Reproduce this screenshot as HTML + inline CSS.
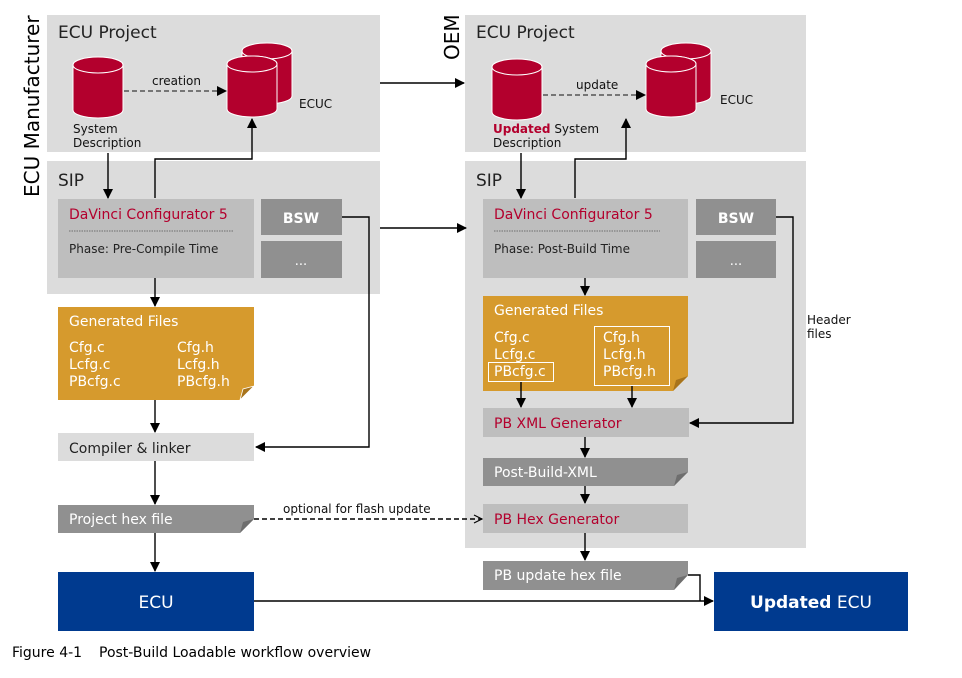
<!DOCTYPE html>
<html><head><meta charset="utf-8"><style>
html,body{margin:0;padding:0;background:#fff}
svg{display:block}
text{font-family:"DejaVu Sans","Liberation Sans",sans-serif}
</style></head><body>
<svg width="962" height="678" viewBox="0 0 962 678" xmlns="http://www.w3.org/2000/svg">
<defs>
<marker id="a" markerWidth="10" markerHeight="10" refX="9" refY="5" orient="auto" markerUnits="userSpaceOnUse"><path d="M0,0 L10,5 L0,10 z" fill="#000"/></marker>
<marker id="o" markerWidth="10" markerHeight="10" refX="9" refY="5" orient="auto" markerUnits="userSpaceOnUse"><path d="M1,1 L9,5 L1,9" fill="none" stroke="#000" stroke-width="1.2"/></marker>
</defs>
<text transform="translate(39,197) rotate(-90)" font-size="20" fill="#000">ECU Manufacturer</text>
<text transform="translate(459,60) rotate(-90)" font-size="20" fill="#000">OEM</text>

<rect x="47" y="15" width="333" height="137" fill="#dcdcdc"/>
<rect x="47" y="161" width="333" height="133" fill="#dcdcdc"/>
<rect x="465" y="15" width="341" height="137" fill="#dcdcdc"/>
<rect x="465" y="161" width="341" height="387" fill="#dcdcdc"/>
<text x="58" y="38" font-size="17" fill="#222">ECU Project</text>
<text x="58" y="186" font-size="17" fill="#222">SIP</text>
<text x="476" y="38" font-size="17" fill="#222">ECU Project</text>
<text x="476" y="186" font-size="17" fill="#222">SIP</text>

<g fill="#b3002d" stroke="#fff" stroke-width="1">
<path d="M73,65 a25,8 0 0 1 50,0 v45 a25,8 0 0 1 -50,0 z"/><ellipse cx="98" cy="65" rx="25" ry="8"/>
<path d="M242,51 a25,8 0 0 1 50,0 v45 a25,8 0 0 1 -50,0 z"/><ellipse cx="267" cy="51" rx="25" ry="8"/>
<path d="M227,64 a25,8 0 0 1 50,0 v45 a25,8 0 0 1 -50,0 z"/><ellipse cx="252" cy="64" rx="25" ry="8"/>
<path d="M492,67 a25,8 0 0 1 50,0 v45 a25,8 0 0 1 -50,0 z"/><ellipse cx="517" cy="67" rx="25" ry="8"/>
<path d="M661,51 a25,8 0 0 1 50,0 v45 a25,8 0 0 1 -50,0 z"/><ellipse cx="686" cy="51" rx="25" ry="8"/>
<path d="M646,64 a25,8 0 0 1 50,0 v45 a25,8 0 0 1 -50,0 z"/><ellipse cx="671" cy="64" rx="25" ry="8"/>
</g>
<text x="73" y="133" font-size="12" fill="#111">System</text>
<text x="73" y="147" font-size="12" fill="#111">Description</text>
<text x="299" y="108" font-size="12" fill="#111">ECUC</text>
<text x="152" y="85" font-size="12" fill="#111">creation</text>
<line x1="124" y1="91" x2="226" y2="91" stroke="#555" stroke-width="1.5" stroke-dasharray="5,3" marker-end="url(#a)"/>
<text x="493" y="133" font-size="12" fill="#111"><tspan fill="#b3002d" font-weight="bold">Updated</tspan> System</text>
<text x="493" y="147" font-size="12" fill="#111">Description</text>
<text x="720" y="104" font-size="12" fill="#111">ECUC</text>
<text x="576" y="89" font-size="12" fill="#111">update</text>
<line x1="543" y1="95" x2="645" y2="95" stroke="#555" stroke-width="1.5" stroke-dasharray="5,3" marker-end="url(#a)"/>

<rect x="58" y="199" width="196" height="79" fill="#bebebe"/>
<text x="69" y="219" font-size="14" fill="#b3002d">DaVinci Configurator 5</text>
<line x1="69" y1="231" x2="233" y2="231" stroke="#555" stroke-width="0.7" stroke-dasharray="1.5,1"/>
<text x="69" y="253" font-size="12" fill="#222">Phase: Pre-Compile Time</text>
<rect x="261" y="199" width="81" height="36" fill="#909090"/>
<text x="301" y="223" font-size="14" fill="#fff" text-anchor="middle" font-weight="bold">BSW</text>
<rect x="261" y="241" width="81" height="37" fill="#909090"/>
<text x="301" y="265" font-size="13" fill="#fff" text-anchor="middle">...</text>

<rect x="483" y="199" width="205" height="79" fill="#bebebe"/>
<text x="494" y="219" font-size="14" fill="#b3002d">DaVinci Configurator 5</text>
<line x1="494" y1="231" x2="660" y2="231" stroke="#555" stroke-width="0.7" stroke-dasharray="1.5,1"/>
<text x="494" y="253" font-size="12" fill="#222">Phase: Post-Build Time</text>
<rect x="696" y="199" width="80" height="36" fill="#909090"/>
<text x="736" y="223" font-size="14" fill="#fff" text-anchor="middle" font-weight="bold">BSW</text>
<rect x="696" y="241" width="80" height="37" fill="#909090"/>
<text x="736" y="265" font-size="13" fill="#fff" text-anchor="middle">...</text>

<path d="M58,307 H254 V386 L240,400 H58 z" fill="#d69a2d"/>
<path d="M240,400 L243,389 L254,386 z" fill="#a8741c" stroke="#fff" stroke-width="0.8"/>
<text x="69" y="326" font-size="14" fill="#fff">Generated Files</text>
<g font-size="14" fill="#fff"><text x="69" y="352">Cfg.c</text><text x="69" y="369">Lcfg.c</text><text x="69" y="386">PBcfg.c</text>
<text x="177" y="352">Cfg.h</text><text x="177" y="369">Lcfg.h</text><text x="177" y="386">PBcfg.h</text></g>

<path d="M483,296 H688 V376 L673,391 H483 z" fill="#d69a2d"/>
<path d="M673,391 L676,380 L688,376 z" fill="#a8741c"/>
<text x="494" y="315" font-size="14" fill="#fff">Generated Files</text>
<g font-size="14" fill="#fff"><text x="494" y="342">Cfg.c</text><text x="494" y="359">Lcfg.c</text><text x="494" y="376">PBcfg.c</text>
<text x="603" y="342">Cfg.h</text><text x="603" y="359">Lcfg.h</text><text x="603" y="376">PBcfg.h</text></g>
<rect x="488.5" y="362.5" width="65" height="19" fill="none" stroke="#fff"/>
<rect x="594.5" y="326.5" width="75" height="59" fill="none" stroke="#fff"/>

<rect x="58" y="433" width="196" height="28" fill="#dcdcdc"/>
<text x="69" y="453" font-size="14" fill="#222">Compiler &amp; linker</text>
<path d="M58,505 H254 V519 L240,533 H58 z" fill="#909090"/>
<path d="M240,533 L243,522 L254,519 z" fill="#6e6e6e"/>
<text x="69" y="524" font-size="14" fill="#fff">Project hex file</text>
<rect x="58" y="572" width="196" height="59" fill="#003a8f"/>
<text x="156" y="608" font-size="17" fill="#fff" text-anchor="middle">ECU</text>

<rect x="483" y="408" width="206" height="29" fill="#bebebe"/>
<text x="494" y="428" font-size="14" fill="#b3002d">PB XML Generator</text>
<path d="M483,458 H688 V472 L674,486 H483 z" fill="#909090"/>
<path d="M674,486 L677,475 L688,472 z" fill="#6e6e6e"/>
<text x="494" y="477" font-size="14" fill="#fff">Post-Build-XML</text>
<rect x="483" y="504" width="205" height="29" fill="#bebebe"/>
<text x="494" y="524" font-size="14" fill="#b3002d">PB Hex Generator</text>
<path d="M483,561 H688 V575 L674,590 H483 z" fill="#909090"/>
<path d="M674,590 L677,578 L688,575 z" fill="#6e6e6e"/>
<text x="494" y="580" font-size="14" fill="#fff">PB update hex file</text>
<rect x="714" y="572" width="194" height="59" fill="#003a8f"/>
<text x="811" y="608" font-size="17" fill="#fff" text-anchor="middle"><tspan font-weight="bold">Updated</tspan> ECU</text>

<g stroke="#000" stroke-width="1.4" fill="none">
<line x1="380" y1="83" x2="464" y2="83" marker-end="url(#a)"/>
<line x1="380" y1="228" x2="466" y2="228" marker-end="url(#a)"/>
<line x1="108" y1="153" x2="108" y2="198" marker-end="url(#a)"/>
<polyline points="155,198 155,159 252,159 252,119" marker-end="url(#a)"/>
<line x1="155" y1="278" x2="155" y2="306" marker-end="url(#a)"/>
<line x1="155" y1="400" x2="155" y2="432" marker-end="url(#a)"/>
<line x1="155" y1="461" x2="155" y2="504" marker-end="url(#a)"/>
<line x1="155" y1="533" x2="155" y2="571" marker-end="url(#a)"/>
<polyline points="342,217 369,217 369,447 256,447" marker-end="url(#a)"/>
<line x1="521" y1="153" x2="521" y2="198" marker-end="url(#a)"/>
<polyline points="575,198 575,159 626,159 626,119" marker-end="url(#a)"/>
<line x1="585" y1="278" x2="585" y2="295" marker-end="url(#a)"/>
<line x1="521" y1="382" x2="521" y2="407" marker-end="url(#a)"/>
<line x1="632" y1="386" x2="632" y2="407" marker-end="url(#a)"/>
<polyline points="776,217 793,217 793,423 690,423" marker-end="url(#a)"/>
<line x1="585" y1="437" x2="585" y2="457" marker-end="url(#a)"/>
<line x1="585" y1="486" x2="585" y2="503" marker-end="url(#a)"/>
<line x1="585" y1="533" x2="585" y2="560" marker-end="url(#a)"/>
<line x1="254" y1="601" x2="713" y2="601" marker-end="url(#a)"/>
<polyline points="688,575 700,575 700,601"/>
<line x1="254" y1="519" x2="482" y2="519" stroke-dasharray="5,3" marker-end="url(#o)"/>
</g>
<text x="283" y="513" font-size="12" fill="#111">optional for flash update</text>
<text x="807" y="324" font-size="12" fill="#111">Header</text>
<text x="807" y="338" font-size="12" fill="#111">files</text>

<text x="12" y="657" font-size="14" fill="#000" font-family="Liberation Sans, sans-serif">Figure 4-1</text>
<text x="99" y="657" font-size="14" fill="#000" font-family="Liberation Sans, sans-serif">Post-Build Loadable workflow overview</text>
</svg>
</body></html>
